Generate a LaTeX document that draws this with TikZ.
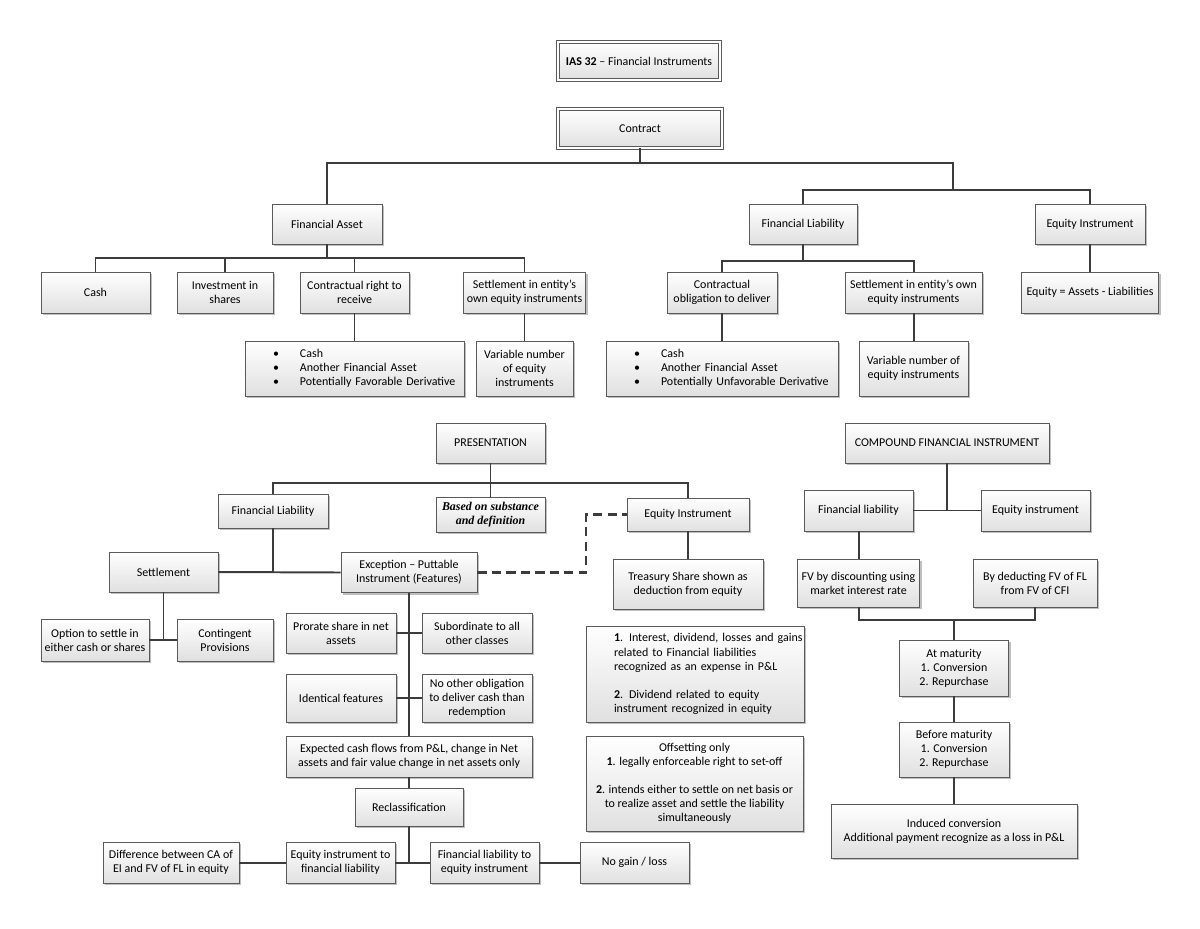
\documentclass[tikz,border=0pt]{standalone}
\usepackage{fontspec}
\setmainfont{Carlito}
\newfontfamily\basedfont{Liberation Serif}
\usetikzlibrary{shadows}
\newdimen\pxu \pxu=0.025cm
\definecolor{boxline}{HTML}{5A5A5A}
\definecolor{boxfill}{HTML}{E0E0E0}
\definecolor{connline}{HTML}{3C3C3C}
\newcommand\blt[1]{\hspace*{28\pxu}\makebox[27\pxu][l]{\textbullet}\mbox{#1}}
\newcommand\indl[1]{\hspace*{28\pxu}\mbox{#1}}

\begin{document}
\begin{tikzpicture}[x=0.025cm, y=-0.025cm,
    blk/.style 2 args={draw=boxline, line width=0.6pt, top color=white, bottom color=boxfill,
        minimum width=#1\pxu, minimum height=#2\pxu, inner sep=1pt, align=center,
        font=\fontsize{8.5}{10}\selectfont,
        drop shadow={shadow xshift=2\pxu, shadow yshift=-2\pxu, fill=black, opacity=.25}},
    ttl/.style 2 args={blk={#1}{#2}, double=white, double distance=1.6pt, line width=0.5pt},
    conn/.style={draw=connline, line width=1.4pt},
    dconn/.style={conn, line width=1.5pt, dash pattern=on 6.5pt off 3.8pt}]
    \useasboundingbox (0,0) rectangle (1200,928);

    % contract tree
    \node[ttl={162}{38}] (ias) at (639,61) {\textbf{IAS 32} -- Financial Instruments};
    \node[ttl={164}{39}] (contract) at (640,128.5) {Contract};

    \node[blk={110}{40}] (fa) at (327,224) {Financial Asset};
    \node[blk={108}{40}] (fl) at (803,224) {Financial Liability};
    \node[blk={110}{40}] (ei) at (1090,224) {Equity Instrument};

    \node[blk={109}{41}] (cash) at (95.5,292.5) {Cash};
    \node[blk={96}{41}] (inv) at (225,292.5) {Investment in\\shares};
    \node[blk={109}{41}] (cright) at (354.5,292.5) {Contractual right to\\receive};
    \node[blk={122}{41}] (settle) at (524.5,292.5) {Settlement in entity’s\\own equity instruments};
    \node[blk={219}{55}, align=left, text width=219\pxu, inner xsep=0pt] (bulleta) at (354.5,368.5)
        {\blt{Cash}\\\blt{Another Financial Asset}\\\blt{Potentially Favorable Derivative}};
    \node[blk={97}{55}] (vara) at (524.5,368.5) {Variable number\\of equity\\instruments};

    \node[blk={110}{41}] (cobl) at (722,292.5) {Contractual\\obligation to deliver};
    \node[blk={137}{41}] (settlel) at (913.5,292.5) {Settlement in entity’s own\\equity instruments};
    \node[blk={137}{41}] (eq) at (1090,292.5) {Equity = Assets - Liabilities};
    \node[blk={232}{55}, align=left, text width=232\pxu, inner xsep=0pt] (bulletl) at (722,368.5)
        {\blt{Cash}\\\blt{Another Financial Asset}\\\blt{Potentially Unfavorable Derivative}};
    \node[blk={109}{55}] (varl) at (913.5,368.5) {Variable number of\\equity instruments};

    \coordinate (c1) at (953,163);
    \coordinate (c2) at (953,190);
    \coordinate (fab) at (327,258);
    \coordinate (flb) at (803,261);

    \draw[conn] (contract.south) -- (contract.south |- c1);
    \draw[conn] (fa.north) |- (c1) -- (c2);
    \draw[conn] (fl.north) |- (c2) -| (ei.north);
    \draw[conn] (fa.south) -- (fab);
    \draw[conn] (cash.north) |- (fab) -| (settle.north);
    \draw[conn] (inv.north) -- (inv.north |- fab);
    \draw[conn] (cright.north) -- (cright.north |- fab);
    \draw[conn] (cright.south) -- (bulleta.north);
    \draw[conn] (settle.south) -- (vara.north);
    \draw[conn] (fl.south) -- (flb);
    \draw[conn] (cobl.north) |- (flb) -| (settlel.north);
    \draw[conn] (cobl.south) -- (bulletl.north);
    \draw[conn] (settlel.south) -- (varl.north);
    \draw[conn] (ei.south) -- (eq.north);

    % presentation
    \node[blk={109}{40}] (pres) at (490.5,443) {PRESENTATION};
    \node[blk={109}{35}, font=\basedfont\bfseries\itshape\fontsize{8.5}{10}\selectfont] (based) at (490.5,514.5)
        {Based on substance\\and definition};
    \node[blk={110}{34}] (flp) at (273,511) {Financial Liability};
    \node[blk={109}{40}] (settl) at (163.5,572) {Settlement};
    \node[blk={136}{40}] (exc) at (409,572.5) {Exception -- Puttable\\Instrument (Features)};
    \node[blk={108}{42}] (opt) at (95,640) {Option to settle in\\either cash or shares};
    \node[blk={96}{42}] (cont) at (225,640) {Contingent\\Provisions};
    \node[blk={110}{40}] (prorate) at (341,633) {Prorate share in net\\assets};
    \node[blk={110}{40}] (subord) at (477,633) {Subordinate to all\\other classes};
    \node[blk={110}{48}] (ident) at (341,698) {Identical features};
    \node[blk={110}{48}] (noother) at (477,698) {No other obligation\\to deliver cash than\\redemption};
    \node[blk={246}{41}] (expected) at (409,756.5)
        {Expected cash flows from P\&L, change in Net\\assets and fair value change in net assets only};
    \node[blk={108}{38}] (reclass) at (409,807) {Reclassification};
    \node[blk={136}{41}] (diff) at (171,862.5) {Difference between CA of\\EI and FV of FL in equity};
    \node[blk={109}{41}] (eitofl) at (340.5,862.5) {Equity instrument to\\financial liability};
    \node[blk={109}{41}] (fltoei) at (484.5,862.5) {Financial liability to\\equity instrument};
    \node[blk={109}{41}] (nogain) at (634.5,862.5) {No gain / loss};

    \node[blk={122}{33}] (eip) at (688,514.5) {Equity Instrument};
    \node[blk={150}{50}] (treas) at (688,584) {Treasury Share shown as\\deduction from equity};
    \node[blk={218}{96}, align=left, text width=218\pxu, inner xsep=0pt] (interest) at (695,674)
        {\indl{\textbf{1}. Interest, dividend, losses and gains}\\\indl{related to Financial liabilities}\\
         \indl{recognized as an expense in P\&L}\\[10pt]\indl{\textbf{2}. Dividend related to equity}\\
         \indl{instrument recognized in equity}};
    \node[blk={217}{95}] (offset) at (694.5,783.5)
        {Offsetting only\\\textbf{1}. legally enforceable right to set-off\\[10pt]
         \textbf{2}. intends either to settle on net basis or\\to realize asset and settle the liability\\simultaneously};

    \coordinate (pb) at (490.5,483);
    \coordinate (dc) at (586,514.5);

    \draw[conn] (pres.south) -- (based.north);
    \draw[conn] (flp.north) |- (pb) -| (eip.north);
    \draw[conn] (flp.south) -- (flp.south |- settl.east);
    \draw[conn] (settl.east) -- (exc.west);
    \draw[dconn] (exc.east) -| (dc) -- (eip.west);
    \draw[conn] (settl.south) -- (settl.south |- opt.east);
    \draw[conn] (opt.east) -- (cont.west);
    \draw[conn] (exc.south) -- (expected.north);
    \draw[conn] (prorate.east) -- (subord.west);
    \draw[conn] (ident.east) -- (noother.west);
    \draw[conn] (expected.south) -- (reclass.north);
    \draw[conn] (reclass.south) -- (reclass.south |- eitofl.east);
    \draw[conn] (eitofl.east) -- (fltoei.west);
    \draw[conn] (diff.east) -- (eitofl.west);
    \draw[conn] (fltoei.east) -- (nogain.west);
    \draw[conn] (eip.south) -- (treas.north);

    % compound financial instrument
    \node[blk={204}{40}] (cfi) at (947,443) {COMPOUND FINANCIAL INSTRUMENT};
    \node[blk={109}{41}] (flc) at (858.5,510.5) {Financial liability};
    \node[blk={109}{41}] (eic) at (1035.5,510.5) {Equity instrument};
    \node[blk={122}{48}] (fv) at (858.5,583) {FV by discounting using\\market interest rate};
    \node[blk={124}{48}] (bydeduct) at (1035,583) {By deducting FV of FL\\from FV of CFI};
    \node[blk={109}{56}] (atmat) at (954,668) {At maturity\\1. Conversion\\2. Repurchase};
    \node[blk={110}{55}] (beforemat) at (954,749.5) {Before maturity\\1. Conversion\\2. Repurchase};
    \node[blk={246}{54}] (induced) at (954,831) {Induced conversion\\Additional payment recognize as a loss in P\&L};

    \coordinate (mb) at (954,620);

    \draw[conn] (cfi.south) -- (cfi.south |- flc.east);
    \draw[conn] (flc.east) -- (eic.west);
    \draw[conn] (flc.south) -- (fv.north);
    \draw[conn] (fv.south) |- (mb) -| (bydeduct.south);
    \draw[conn] (mb) -- (atmat.north);
    \draw[conn] (atmat.south) -- (beforemat.north);
    \draw[conn] (beforemat.south) -- (induced.north);
\end{tikzpicture}
\end{document}
